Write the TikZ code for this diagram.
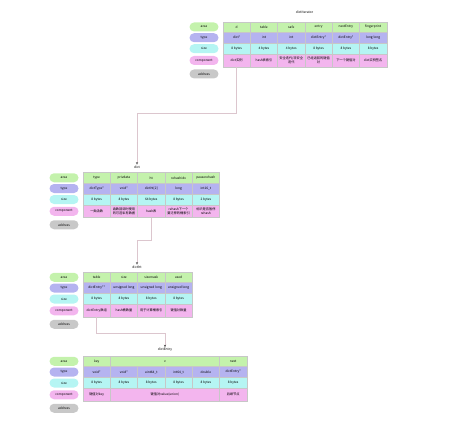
\documentclass[tikz,border=0pt]{standalone}
\usepackage{fontspec}
\setmainfont{Noto Sans CJK SC}
\usetikzlibrary{positioning,arrows.meta,shapes.misc}
\definecolor{areaC}{HTML}{C4F2AC}
\definecolor{typeC}{HTML}{B5B3F0}
\definecolor{sizeC}{HTML}{B5F5F3}
\definecolor{compC}{HTML}{F3B5EE}
\definecolor{addrC}{HTML}{C8C8C8}
\definecolor{linkC}{HTML}{DCC6CE}

\begin{document}
\begin{tikzpicture}[x=1pt, y=-1pt,
  every node/.style={font=\fontsize{3.2}{3.9}\selectfont, inner sep=0pt, outer sep=0pt},
  cell/.style={rectangle, draw=black!22, line width=0.3pt, minimum width=27.3pt, align=center},
  arearow/.style={cell, fill=areaC, minimum height=10.5pt},
  typerow/.style={cell, fill=typeC, minimum height=11pt},
  sizerow/.style={cell, fill=sizeC, minimum height=11pt},
  comprow/.style={cell, fill=compC, minimum height=12.5pt},
  pill/.style={rounded rectangle, minimum width=29pt, minimum height=9pt, fill=#1},
  structname/.style={font=\fontsize{3.3}{4}\selectfont, inner sep=1pt},
  link/.style={linkC, line width=0.55pt, -{Stealth[length=2.6pt, width=2.2pt, black!70]}}
]
  \useasboundingbox (0,0) rectangle (474,439);

  % dictIterator
  \node[structname] (ititle) at (304.5,12) {dictIterator};
  \begin{scope}[shift={(223,21.7)}]
    \foreach \lab/\col/\yy [count=\k] in {area/areaC/5.25, type/typeC/16, size/sizeC/27, component/compC/38.75, address/addrC/52.25}
      \node[pill=\col] (ip\k) at (-19,\yy) {\lab};
    \foreach \t [count=\i] in {d,table,safe,entry,nextEntry,fingerprint}
      \node[arearow] (ia\i) at ({27.3*(\i-0.5)},5.25) {\t};
    \foreach \t [count=\i] in {dict*,int,int,dictEntry*,dictEntry*,long long}
      \node[typerow] (it\i) at ({27.3*(\i-0.5)},16) {\t};
    \foreach \t [count=\i] in {8 bytes,4 bytes,4 bytes,8 bytes,8 bytes,8 bytes}
      \node[sizerow] (is\i) at ({27.3*(\i-0.5)},27) {\t};
    \foreach \t [count=\i] in {dict实例,hash表索引,{安全迭代/非安全\\迭代},{已经返回的键值\\对},下一个键值对,dict实例签名}
      \node[comprow] (ic\i) at ({27.3*(\i-0.5)},38.75) {\t};
  \end{scope}

  % dict
  \node[structname] (dtitle) at (137,167) {dict};
  \begin{scope}[shift={(83,172.5)}]
    \foreach \lab/\col/\yy [count=\k] in {area/areaC/5.25, type/typeC/16, size/sizeC/27, component/compC/38.75, address/addrC/52.25}
      \node[pill=\col] (dp\k) at (-19,\yy) {\lab};
    \foreach \t [count=\i] in {type,privdata,ht,rehashidx,pauserehash}
      \node[arearow] (da\i) at ({27.3*(\i-0.5)},5.25) {\t};
    \foreach \t [count=\i] in {dictType*,void*,dictht[2],long,int16\_t}
      \node[typerow] (dt\i) at ({27.3*(\i-0.5)},16) {\t};
    \foreach \t [count=\i] in {8 bytes,8 bytes,64 bytes,8 bytes,2 bytes}
      \node[sizerow] (ds\i) at ({27.3*(\i-0.5)},27) {\t};
    \foreach \t [count=\i] in {一类函数,{函数回调时使用\\的可选私有数据},hash表,{rehash下一个\\要迁移的桶索引},{标识是否暂停\\rehash}}
      \node[comprow] (dc\i) at ({27.3*(\i-0.5)},38.75) {\t};
  \end{scope}

  % dictht
  \node[structname] (htitle) at (137,267) {dictht};
  \begin{scope}[shift={(83,272)}]
    \foreach \lab/\col/\yy [count=\k] in {area/areaC/5.25, type/typeC/16, size/sizeC/27, component/compC/38.75, address/addrC/52.25}
      \node[pill=\col] (hp\k) at (-19,\yy) {\lab};
    \foreach \t [count=\i] in {table,size,sizemask,used}
      \node[arearow] (ha\i) at ({27.3*(\i-0.5)},5.25) {\t};
    \foreach \t [count=\i] in {dictEntry**,unsigned long,unsigned long,unsigned long}
      \node[typerow] (ht\i) at ({27.3*(\i-0.5)},16) {\t};
    \foreach \t [count=\i] in {8 bytes,8 bytes,8 bytes,8 bytes}
      \node[sizerow] (hs\i) at ({27.3*(\i-0.5)},27) {\t};
    \foreach \t [count=\i] in {dictEntry数组,hash桶数量,用于计算桶索引,键值对数量}
      \node[comprow] (hc\i) at ({27.3*(\i-0.5)},38.75) {\t};
  \end{scope}

  % dictEntry
  \node[structname] (etitle) at (165,350) {dictEntry};
  \begin{scope}[shift={(83,356)}]
    \foreach \lab/\col/\yy [count=\k] in {area/areaC/5.25, type/typeC/16, size/sizeC/27, component/compC/38.75, address/addrC/52.25}
      \node[pill=\col] (ep\k) at (-19,\yy) {\lab};
    \node[arearow] (ea1) at (13.65,5.25) {key};
    \node[arearow, minimum width=109.2pt] (ea2) at (81.9,5.25) {v};
    \node[arearow] (ea3) at (150.15,5.25) {next};
    \foreach \t [count=\i] in {void*,void*,uint64\_t,int64\_t,double,dictEntry*}
      \node[typerow] (et\i) at ({27.3*(\i-0.5)},16) {\t};
    \foreach \t [count=\i] in {8 bytes,8 bytes,8 bytes,8 bytes,8 bytes,8 bytes}
      \node[sizerow] (es\i) at ({27.3*(\i-0.5)},27) {\t};
    \node[comprow] (ec1) at (13.65,38.75) {键值对key};
    \node[comprow, minimum width=109.2pt] (ec2) at (81.9,38.75) {键值对value(union)};
    \node[comprow] (ec3) at (150.15,38.75) {后继节点};
  \end{scope}

  % connectors
  \coordinate (k1) at (137,113);
  \coordinate (k2) at (137,240);
  \coordinate (k3) at (165,333);
  \draw[link] (ic1.south) |- (k1) -- (dtitle.north);
  \draw[link] (dc3.south) |- (k2) -- (htitle.north);
  \draw[link] (hc1.south) |- (k3) -- (etitle.north);
\end{tikzpicture}
\end{document}
